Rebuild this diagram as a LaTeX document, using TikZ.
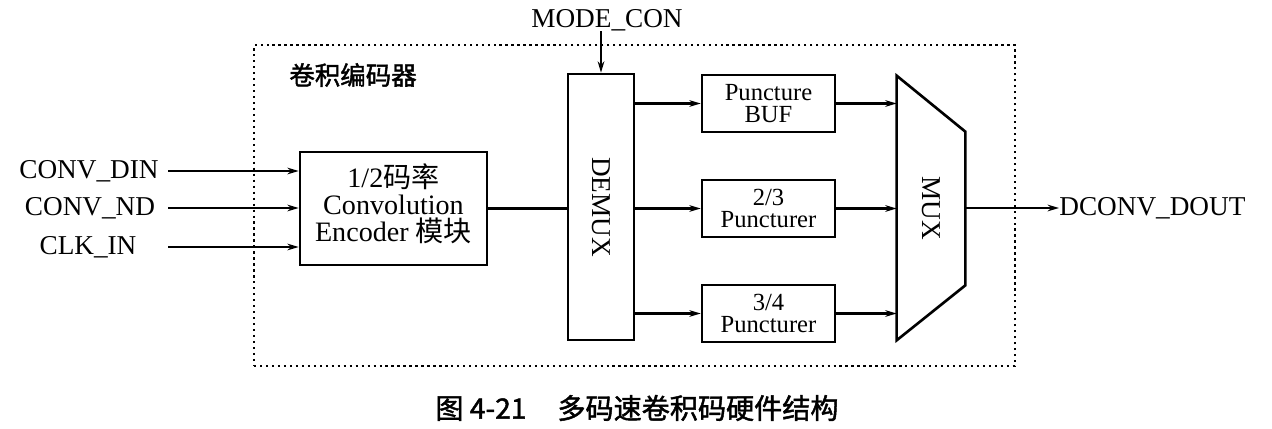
\documentclass[tikz,border=0pt]{standalone}
\usepackage{fontspec}
\setmainfont{Liberation Serif}
\newfontfamily\cjk{Noto Sans CJK SC}
\newfontfamily\cjkbold[FakeBold=1.6]{Noto Sans CJK SC}
\usepackage{tikz}
\usetikzlibrary{shapes,arrows,arrows.meta,positioning}

\begin{document}
\begin{tikzpicture}[x=0.02cm, y=-0.02cm]
% Define styles
\tikzstyle{block} = [rectangle, draw=black, line width=1.5pt, inner sep=0pt]
\tikzstyle{punct} = [block, minimum width=2.66cm, minimum height=1.14cm, align=center, font=\rmfamily\fontsize{14}{13}\selectfont]
\tikzstyle{signal} = [inner sep=0pt, font=\rmfamily\fontsize{15.5}{18}\selectfont]
\tikzstyle{arrow} = [line width=1.2pt, -{Stealth[length=6.5pt, width=3.8pt]}]
\tikzstyle{dotframe} = [draw=black, line width=1.3pt, dash pattern=on 1.3pt off 2.1pt, minimum width=15.22cm, minimum height=6.42cm]

\useasboundingbox (0,0) rectangle (1272,429);

% Define nodes
\node (frame) [dotframe] at (634.5,205.5) {};
\node (title) [anchor=west, inner sep=0pt, font=\fontsize{14.5}{16}\selectfont] at (289,75) {\cjkbold 卷积编码器};

\node (din) [signal] at (89,171) {CONV\_DIN};
\node (nd) [signal] at (90,208) {CONV\_ND};
\node (clk) [signal] at (88,247) {CLK\_IN};
\coordinate (dinstart) at (168,171);
\coordinate (ndstart) at (168,208);
\coordinate (clkstart) at (168,247);

\node (enc) [block, minimum width=3.74cm, minimum height=2.26cm, font=\rmfamily\fontsize{16}{15.6}\selectfont] at (393.5,208.5)
  {\renewcommand{\arraystretch}{0.9}\begin{tabular}{@{}c@{}}1/2\smash{\cjk 码率}\\ Convolution\\ Encoder \smash{\cjk 模块}\end{tabular}};

\node (demux) [block, minimum width=1.32cm, minimum height=5.32cm] at (601,207) {};
\node (demuxtext) [signal, rotate=-90] at (demux.center) {DEMUX};
\node (mode) [signal] at (607,20) {MODE\_CON};

\node (buf) [punct] at (768.5,103.5) {Puncture\\BUF};
\node (p23) [punct] at (768.5,208.5) {2/3\\Puncturer};
\node (p34) [punct] at (768.5,313.5) {3/4\\Puncturer};

\node (mux) [rectangle, inner sep=0pt, minimum width=1.36cm, minimum height=5.28cm] at (931,208) {};
\draw [line width=1.5pt] (mux.north west) -- ([yshift=-1.12cm]mux.north east) -- ([yshift=1.1cm]mux.south east) -- (mux.south west) -- cycle;
\node (muxtext) [signal, rotate=-90] at (mux.center) {MUX};

\node (dout) [signal, anchor=west] at (1059,208) {DCONV\_DOUT};

\node (caption) [inner sep=0pt, font=\fontsize{16}{18}\selectfont] at (637,408) {\cjkbold 图 4-21\hspace{0.62cm}多码速卷积码硬件结构};

% Draw arrows
\draw [arrow] (dinstart) -- (dinstart -| enc.west);
\draw [arrow] (ndstart) -- (ndstart -| enc.west);
\draw [arrow] (clkstart) -- (clkstart -| enc.west);
\draw [line width=1.2pt] (enc.east) -- (enc.east -| demux.west);
\draw [arrow] (mode.south -| demux.north) -- (demux.north);
\draw [arrow] (buf.west -| demux.east) -- (buf.west);
\draw [arrow] (p23.west -| demux.east) -- (p23.west);
\draw [arrow] (p34.west -| demux.east) -- (p34.west);
\draw [arrow] (buf.east) -- (buf.east -| mux.west);
\draw [arrow] (p23.east) -- (p23.east -| mux.west);
\draw [arrow] (p34.east) -- (p34.east -| mux.west);
\draw [arrow] (mux.east) -- (dout.west);
\end{tikzpicture}
\end{document}
